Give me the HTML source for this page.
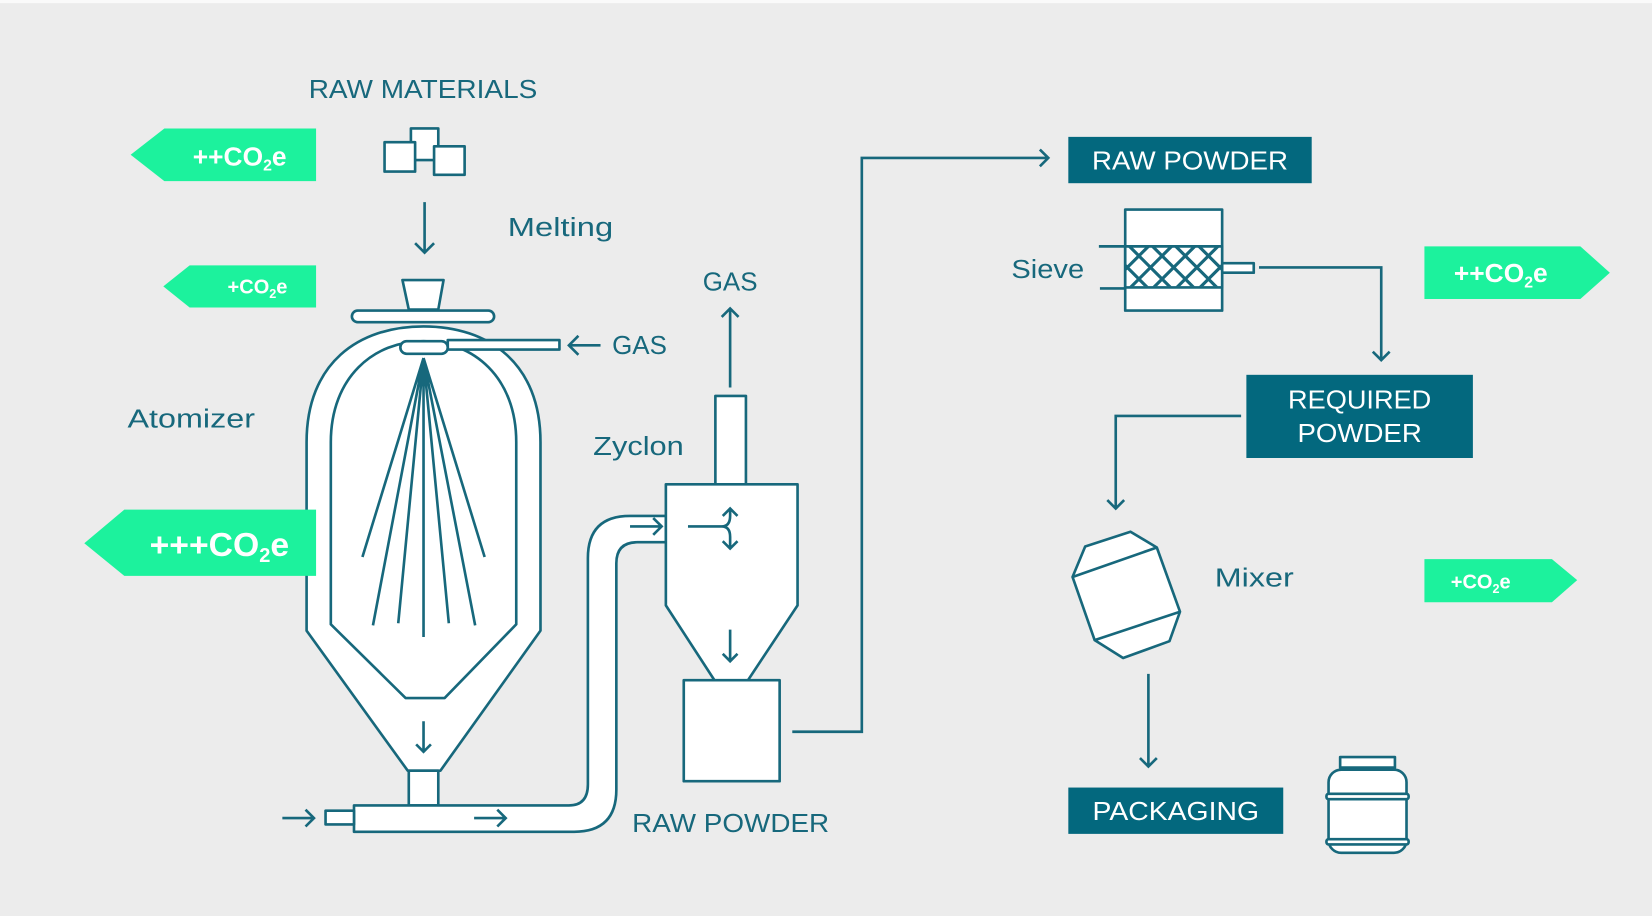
<!DOCTYPE html>
<html><head><meta charset="utf-8"><style>
html,body{margin:0;padding:0;background:#ececec;}
svg{display:block;}
text{font-family:"Liberation Sans",sans-serif;}
.t{fill:#17687c;font-size:25px;}
.w{fill:#fff;font-size:25px;}
.g{fill:#fff;font-weight:bold;}
</style></head><body>
<svg width="1652" height="916" viewBox="0 0 1568 870" preserveAspectRatio="none" xmlns="http://www.w3.org/2000/svg">
<rect x="0" y="0" width="1568" height="870" fill="#ececec"/>
<rect x="0" y="0" width="1568" height="3" fill="#fafafa"/>

<g stroke="#17687c" stroke-width="2.5" fill="#fff" stroke-linejoin="round">
<!-- raw materials -->
<rect x="390" y="122" width="26" height="30"/>
<rect x="365" y="135" width="29" height="28"/>
<rect x="412" y="139" width="29" height="27"/>
<!-- atomizer -->
<path d="M382,266 L421,266 L416,294 L388,294 Z"/>
<rect x="334" y="295" width="135" height="11" rx="5.5"/>
<path d="M291,599 L291,420 C291,345 340,310 402,310 C464,310 513,345 513,420 L513,599 L418,732 L387,732 Z"/>
<path d="M314,593 L314,420 C314,358 355,324 402,324 C449,324 490,358 490,420 L490,593 L422,663 L385,663 Z"/>
<rect x="425" y="323" width="106" height="9"/>
<rect x="380" y="324" width="45" height="12" rx="6"/>
<rect x="388" y="732" width="28" height="33"/>
<!-- pipe -->
<path d="M336,765 L540,765 Q558,765 558,745 L558,530 Q558,490 598,490 L632,490 L632,515 L605,515 Q585,515 585,535 L585,750 Q585,790 545,790 L336,790 Z"/>
<rect x="309" y="770" width="27" height="13"/>
<!-- cyclone -->
<rect x="679" y="376" width="29" height="84"/>
<path d="M632,460 L757,460 L757,575 L706,652 L682,652 L632,575 Z"/>
<rect x="649" y="646" width="91" height="96"/>
<!-- sieve -->
<rect x="1068" y="199" width="92" height="96"/>
<rect x="1160" y="250" width="30" height="9"/>
<rect x="1068" y="234" width="92" height="39" fill="#fff"/>
<!-- mixer -->
<polygon points="1073,505 1098,520 1120,581 1110,609 1066,625 1039,608 1018,548 1030,519"/>
<!-- jar -->
<rect x="1272" y="719" width="52" height="10"/>
<rect x="1261" y="731" width="74" height="79" rx="12"/>
<rect x="1259" y="754" width="78" height="5" rx="2"/>
<rect x="1259" y="797" width="78" height="5" rx="2"/>
</g>
<g stroke="#17687c" stroke-width="2.5" fill="none">
<path d="M1018,548 L1098,520 M1039,608 L1120,581"/>
<!-- spray -->
<path d="M402,340 L344,529 M402,340 L354,594 M402,340 L378,592 M402,340 L402,605 M402,340 L426,592 M402,340 L451,594 M402,340 L460,529"/>
<!-- sieve mesh -->
<clipPath id="c"><rect x="1069" y="235" width="90" height="37"/></clipPath>
<g clip-path="url(#c)" stroke-width="3">
<path d="M1050,234 L1090,274 M1072,234 L1112,274 M1094,234 L1134,274 M1116,234 L1156,274 M1138,234 L1178,274 M1050,274 L1090,234 M1072,274 L1112,234 M1094,274 L1134,234 M1116,274 L1156,234 M1138,274 L1178,234"/>
</g>
<path d="M1043,234 L1068,234 M1044,274 L1068,274"/>
<path d="M1195,254 L1311,254 L1311,342 M1303,334 L1311,342 L1319,334"/>
<path d="M1178,395 L1059,395 L1059,483 M1051,475 L1059,483 L1067,475"/>
<path d="M1090,640 L1090,728 M1082,720 L1090,728 L1098,720"/>
<path d="M752,695 L818,695 L818,150 L995,150 M987,142 L995,150 L987,158"/>
<!-- arrows -->
<path d="M403,192 L403,240 M394,231 L403,240 L412,231"/>
<path d="M540,328 L570,328 M549,319 L540,328 L549,337"/>
<path d="M693,368 L693,293 M685,301 L693,293 L701,301"/>
<path d="M402,685 L402,714 M395,707 L402,714 L409,707"/>
<path d="M268,777 L298,777 M290,769 L298,777 L290,785"/>
<path d="M450,777 L480,777 M472,769 L480,777 L472,785"/>
<path d="M598,500 L628,500 M620,492 L628,500 L620,508"/>
<path d="M653,500 L685,500 Q693,500 693,490 L693,483 M686,490 L693,483 L700,490 M685,500 Q693,500 693,510 L693,521 M686,514 L693,521 L700,514"/>
<path d="M693,598 L693,628 M686,621 L693,628 L700,621"/>
</g>

<g fill="#1cf29d">
<polygon points="124,147 156,122 300,122 300,172 156,172"/>
<polygon points="155,272 180,252 300,252 300,292 180,292"/>
<polygon points="80,516 118,484 300,484 300,547 118,547"/>
<polygon points="1352,234 1500,234 1528,259 1500,284 1352,284"/>
<polygon points="1352,531 1473,531 1497,551 1473,572 1352,572"/>
</g>
<text class="g" x="183" y="157" font-size="25">++CO<tspan font-size="15" dy="5">2</tspan><tspan dy="-5">e</tspan></text>
<text class="g" x="216" y="279" font-size="19">+CO<tspan font-size="12" dy="4">2</tspan><tspan dy="-4">e</tspan></text>
<text class="g" x="142" y="528" font-size="32">+++CO<tspan font-size="19" dy="6">2</tspan><tspan dy="-6">e</tspan></text>
<text class="g" x="1380" y="268" font-size="25">++CO<tspan font-size="15" dy="5">2</tspan><tspan dy="-5">e</tspan></text>
<text class="g" x="1377" y="559" font-size="19">+CO<tspan font-size="12" dy="4">2</tspan><tspan dy="-4">e</tspan></text>

<g fill="#03687e">
<rect x="1014" y="130" width="231" height="44"/>
<rect x="1183" y="356" width="215" height="79"/>
<rect x="1014" y="748" width="204" height="44"/>
</g>
<text class="w" x="1129.5" y="161" text-anchor="middle" textLength="186" lengthAdjust="spacingAndGlyphs">RAW POWDER</text>
<text class="w" x="1290.5" y="388" text-anchor="middle" textLength="136" lengthAdjust="spacingAndGlyphs">REQUIRED</text>
<text class="w" x="1290.5" y="420" text-anchor="middle" textLength="118" lengthAdjust="spacingAndGlyphs">POWDER</text>
<text class="w" x="1116" y="779" text-anchor="middle" textLength="158" lengthAdjust="spacingAndGlyphs">PACKAGING</text>
<text class="t" x="293" y="93" textLength="217" lengthAdjust="spacingAndGlyphs">RAW MATERIALS</text>
<text class="t" x="482" y="224" textLength="100" lengthAdjust="spacingAndGlyphs">Melting</text>
<text class="t" x="581" y="336" textLength="52" lengthAdjust="spacingAndGlyphs">GAS</text>
<text class="t" x="667" y="276" textLength="52" lengthAdjust="spacingAndGlyphs">GAS</text>
<text class="t" x="121" y="406" textLength="121" lengthAdjust="spacingAndGlyphs">Atomizer</text>
<text class="t" x="563" y="432" textLength="86" lengthAdjust="spacingAndGlyphs">Zyclon</text>
<text class="t" x="600" y="790" textLength="187" lengthAdjust="spacingAndGlyphs">RAW POWDER</text>
<text class="t" x="960" y="264" textLength="69" lengthAdjust="spacingAndGlyphs">Sieve</text>
<text class="t" x="1153" y="557" textLength="75" lengthAdjust="spacingAndGlyphs">Mixer</text>
</svg>
</body></html>
